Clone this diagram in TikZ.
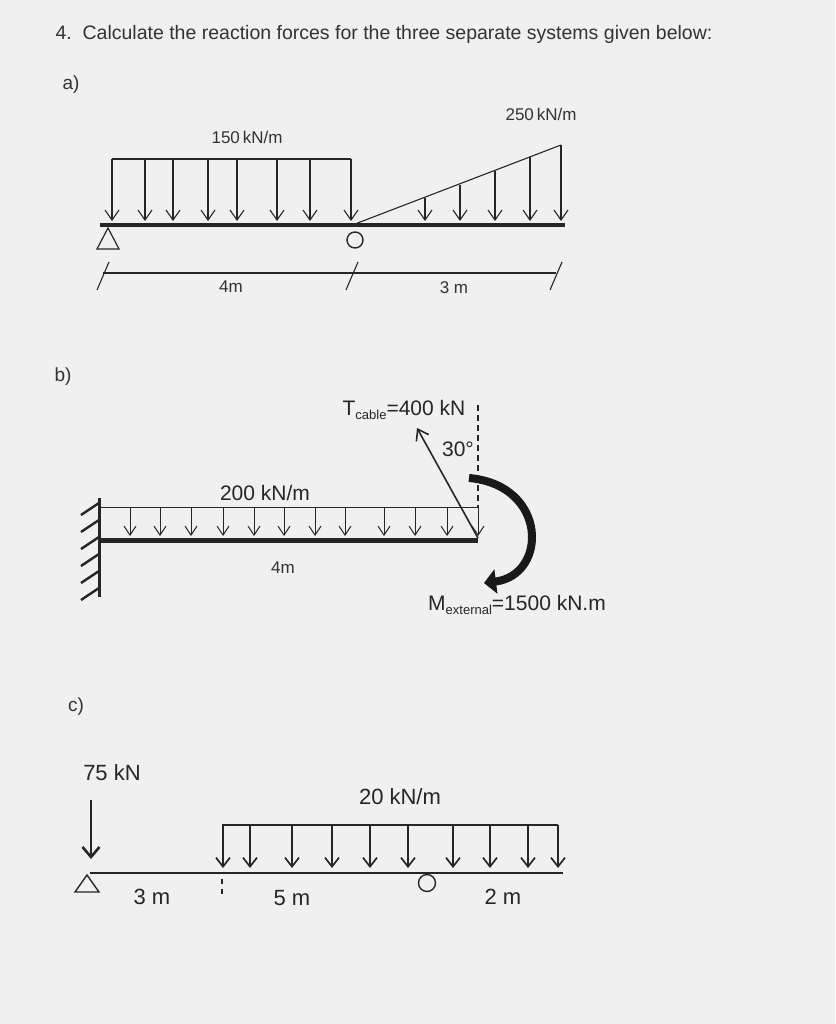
\documentclass[tikz,border=0pt]{standalone}
\usepackage{fontspec}
\setmainfont{Liberation Sans}
\usetikzlibrary{arrows.meta}
\begin{document}
\begin{tikzpicture}[x=1pt,y=-1pt,
  ink/.style={draw=black!85},
  ld/.style={-{Straight Barb[length=10pt,width=14pt]},draw=black!85,line width=1.1pt},
  ldb/.style={-{Straight Barb[length=9pt,width=12pt]},draw=black!85,line width=1pt},
  ldc/.style={-{Straight Barb[length=9pt,width=14pt]},draw=black!85,line width=1.7pt},
  lbl/.style={font=\fontsize{17}{20}\selectfont,text=black!80},
  lblb/.style={font=\fontsize{21}{24}\selectfont,text=black!85},
  lblc/.style={font=\fontsize{22}{25}\selectfont,text=black!85}]
\fill[black!6] (0,0) rectangle (835,1024);
\useasboundingbox (0,0) rectangle (835,1024);
\node[anchor=west,font=\fontsize{19.5}{22}\selectfont,text=black!80] (title) at (52,34) {4.\ \ Calculate the reaction forces for the three separate systems given below:};
\node[font=\fontsize{19}{22}\selectfont,text=black!80] (la) at (71,85) {a)};
\node[font=\fontsize{19}{22}\selectfont,text=black!80] (lb) at (63,377) {b)};
\node[font=\fontsize{19}{22}\selectfont,text=black!80] (lc) at (76,707) {c)};
% ---- a
\draw[line width=3.5pt,draw=black!85] (100,225) -- (565,225);
\draw[ink,line width=1.2pt] (108,228) -- (97,249) -- (119,249) -- cycle;
\draw[ink,line width=1.4pt] (355,240) circle (8);
\draw[ink,line width=1.1pt] (112,159) -- (351,159);
\foreach \x in {112,145,173,208,237,277,310,351}{\draw[ld] (\x,159) -- (\x,221);}
\draw[ink,line width=1.1pt] (355,224) -- (561,145);
\foreach \x/\y in {425/198,460/185,495/171,530/157,561/145}{\draw[ld] (\x,\y) -- (\x,221);}
\draw[ink,line width=1.1pt] (103,273) -- (556,273);
\foreach \x in {103,352,556}{\draw[ink,line width=1.1pt] (\x+6,262) -- (\x-6,290);}
\node[lbl] (qa1) at (247,137) {150\,kN/m};
\node[lbl] (qa2) at (541,114) {250\,kN/m};
\node[lbl] (da1) at (231,287) {4m};
\node[lbl] (da2) at (454,288) {3 m};
% ---- b
\draw[ink,line width=3pt] (99,498) -- (99,597);
\foreach \y in {503,520,537,554,571,588}{\draw[ink,line width=2.4pt] (99,\y) -- (81,\y+12);}
\draw[line width=5pt,draw=black!85] (99,540) -- (478,540);
\draw[ink,line width=1pt] (101,507) -- (478,507);
\foreach \x in {130,160,191,223,254,284,315,345,384,415,447,478}{\draw[ldb] (\x,507) -- (\x,536);}
\draw[ink,line width=1.1pt,dash pattern=on 6pt off 4pt] (478,405) -- (478,507);
\draw[-{Straight Barb[length=10pt,width=14pt]},draw=black!85,line width=1.6pt] (478,538) -- (417,428);
\node[font=\fontsize{21}{24}\selectfont,text=black!85] (tc) at (404,410) {T\raisebox{-0.35ex}{\fontsize{13}{14}\selectfont cable}=400 kN};
\node[lblb] (ang) at (458,449) {30°};
\draw[line width=8pt,draw=black!90,-{Triangle[length=12pt,width=24pt]}] (469,478) .. controls (548,485) and (548,575) .. (484,583);
\node[font=\fontsize{21}{24}\selectfont,text=black!85] (mx) at (517,605) {M\raisebox{-0.35ex}{\fontsize{13}{14}\selectfont external}=1500 kN.m};
\node[lblb] (qb) at (265,493) {200 kN/m};
\node[lbl] (db) at (283,568) {4m};
% ---- c
\draw[ink,line width=1.8pt] (90,873) -- (563,873);
\draw[ink,line width=1.4pt] (87,875) -- (75,892) -- (99,892) -- cycle;
\draw[ldc,line width=2.6pt,-{Straight Barb[length=10pt,width=17pt]}] (91,800) -- (91,859);
\node[lblc] (f75) at (112,773) {75 kN};
\draw[ink,line width=1.6pt] (222,825) -- (558,825);
\foreach \x in {223,250,292,332,370,408,453,490,528,558}{\draw[ldc] (\x,825) -- (\x,868);}
\draw[ink,line width=1.3pt,dash pattern=on 5pt off 5pt] (222,879) -- (222,896);
\draw[ink,line width=1.4pt] (427,883) circle (8.5);
\node[lblc] (qc) at (400,797) {20 kN/m};
\node[lblc] (dc1) at (152,897) {3 m};
\node[lblc] (dc2) at (292,898) {5 m};
\node[lblc] (dc3) at (503,897) {2 m};
\end{tikzpicture}
\end{document}
